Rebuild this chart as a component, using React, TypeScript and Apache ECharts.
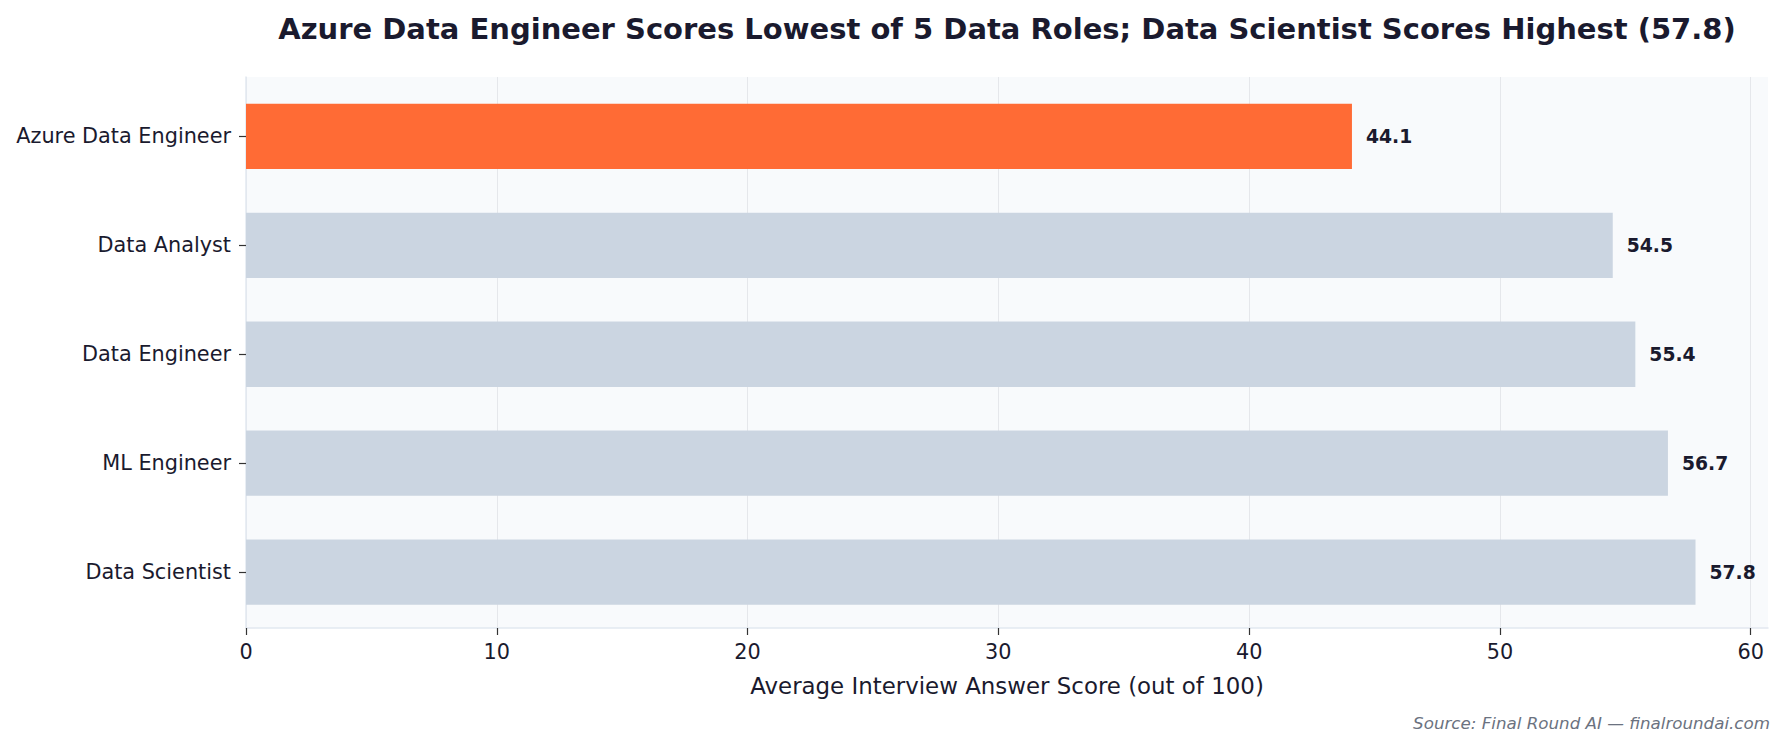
import React, { useEffect, useRef } from "react";
import * as echarts from "echarts";

const categories = ["Azure Data Engineer", "Data Analyst", "Data Engineer", "ML Engineer", "Data Scientist"];
const scores = [44.1, 54.5, 55.4, 56.7, 57.8];
const highlight = "Azure Data Engineer";
const xTicks = [0, 10, 20, 30, 40, 50, 60];
const xMax = 60.69;

const FONT = "DejaVu Sans";
const DARK = "#1a1a2e";

export default function App() {
  const ref = useRef<HTMLDivElement>(null);
  useEffect(() => {
    if (!ref.current) return;
    const chart = echarts.init(ref.current, undefined, { renderer: "svg" });
    chart.setOption({
      animation: false,
      backgroundColor: "#ffffff",
      title: {
        text: "Azure Data Engineer Scores Lowest of 5 Data Roles; Data Scientist Scores Highest (57.8)",
        left: 1002,
        textAlign: "center",
        top: 9,
        textStyle: { fontFamily: FONT, fontWeight: "bold", fontSize: 29, color: DARK },
      },
      grid: [
        { left: 246, right: 18, top: 77, bottom: 122, show: true, backgroundColor: "#F8FAFC", borderWidth: 0 },
        { left: 246, right: 18, top: 82, bottom: 123.5 },
      ],
      xAxis: [
        {
          gridIndex: 0,
          type: "value",
          min: 0,
          max: xMax,
          interval: 10,
          axisLine: { show: true, lineStyle: { color: "#E2E8F0", width: 1.5 } },
          axisTick: { show: true, length: 7, customValues: xTicks, lineStyle: { color: "#333", width: 1.2 } },
          axisLabel: {
            fontFamily: FONT,
            fontSize: 20.8,
            color: DARK,
            margin: 13,
            customValues: xTicks,
          },
          splitLine: { show: true, lineStyle: { color: "#E5E7EB", width: 1 } },
          name: "Average Interview Answer Score (out of 100)",
          nameLocation: "middle",
          nameGap: 46,
          nameTextStyle: { fontFamily: FONT, fontSize: 22.9, color: DARK },
        },
        { gridIndex: 1, type: "value", min: 0, max: xMax, show: false },
      ],
      yAxis: [
        {
          gridIndex: 0,
          type: "value",
          min: 0,
          max: 1,
          axisLine: { show: true, lineStyle: { color: "#E2E8F0", width: 1.5 } },
          axisTick: { show: false },
          axisLabel: { show: false },
          splitLine: { show: false },
        },
        {
          gridIndex: 1,
          type: "category",
          inverse: true,
          data: categories,
          axisLine: { show: false },
          axisTick: { show: true, alignWithLabel: true, length: 7, lineStyle: { color: "#333", width: 1.2 } },
          axisLabel: { fontFamily: FONT, fontSize: 20.8, color: DARK, margin: 15 },
        },
      ],
      series: [
        {
          type: "bar",
          xAxisIndex: 1,
          yAxisIndex: 1,
          barCategoryGap: "40%",
          data: categories.map((c, i) => ({
            value: scores[i],
            itemStyle: { color: c === highlight ? "#FF6B35" : "#CBD5E1" },
          })),
          label: {
            show: true,
            position: "right",
            distance: 14,
            fontFamily: FONT,
            fontWeight: "bold",
            fontSize: 18.75,
            color: DARK,
            formatter: (p: any) => p.value.toFixed(1),
          },
        },
      ],
      graphic: [
        {
          type: "text",
          right: 16,
          top: 714,
          style: {
            text: "Source: Final Round AI — finalroundai.com",
            fontFamily: FONT,
            fontStyle: "italic",
            fontSize: 16.7,
            fill: "#6B7280",
          },
        },
      ],
    });
    return () => chart.dispose();
  }, []);
  return <div ref={ref} style={{ width: 1786, height: 750, position: "absolute", left: 0, top: 0 }} />;
}
